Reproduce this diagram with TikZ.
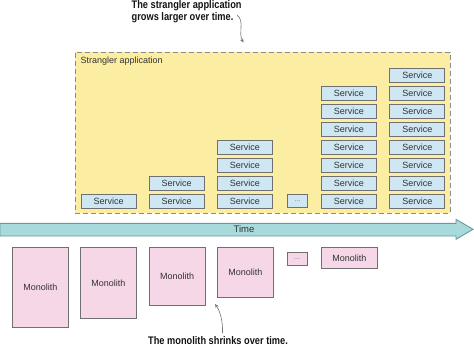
\documentclass[tikz,border=0pt]{standalone}
\usepackage{fontspec}
\setmainfont{Liberation Sans}
\usetikzlibrary{arrows.meta}
\definecolor{yel}{HTML}{FBEEA2}
\definecolor{svcfill}{HTML}{CFE7F3}
\definecolor{pinkfill}{HTML}{F6D7E8}
\definecolor{timefill}{HTML}{A8D9DB}
\definecolor{timeedge}{HTML}{6A9A9E}
\definecolor{edgegray}{HTML}{707070}
\definecolor{txt}{HTML}{333333}
\begin{document}
\begin{tikzpicture}[x=1bp,y=-1bp,
  lbl/.style={font=\fontsize{9bp}{10bp}\selectfont, text=txt},
  svc/.style={lbl, draw=edgegray, line width=0.9bp, fill=svcfill, minimum width=55bp, minimum height=14bp, inner sep=0pt, anchor=north west},
  mono/.style={lbl, draw=edgegray, line width=0.9bp, fill=pinkfill, minimum width=56bp, inner sep=0pt, anchor=north west},
  dotsbox/.style={font=\fontsize{7bp}{8bp}\selectfont, text=black!55, draw=edgegray, line width=0.9bp, inner sep=0pt, anchor=north west},
  note/.style={font=\fontsize{11bp}{12bp}\selectfont\bfseries, text=black!92, inner sep=0pt, align=left},
  callout/.style={draw=black!55, line width=0.6bp, -{Stealth[length=4bp,width=3.5bp]}}
]
\useasboundingbox (0,0) rectangle (474,346);

% strangler application container
\node[draw=black!45, dash pattern=on 5bp off 3bp, line width=0.7bp, fill=yel, minimum width=375bp, minimum height=161bp, anchor=north west, inner sep=0pt] (app) at (75,52) {};
\node[lbl, anchor=west, inner sep=0pt] (applbl) at (80.5,61) {Strangler application};

% services
\foreach \col/\x/\n in {1/80.7/1, 2/148.7/2, 3/217/4, 5/321/7, 6/389.3/8} {
  \foreach \r in {1,...,\n} {
    \node[svc] (s\col-\r) at (\x,{194.3-18*(\r-1)}) {Service};
  }
}
\node[dotsbox, fill=svcfill, minimum width=19.5bp, minimum height=12.5bp] (sdots) at (287.3,194.3) {...};

% time arrow
\draw[draw=timeedge, fill=timefill, line width=0.9bp]
  (0,223.3) -- (456,223.3) -- (456,219.3) -- (473,229.3) -- (456,239.3) -- (456,236) -- (0,236) -- cycle;
\node[lbl, font=\fontsize{9.5bp}{10bp}\selectfont, inner sep=0pt] (time) at (244,229.5) {Time};

% monoliths
\node[mono, minimum height=79.7bp] (m1) at (12,247) {Monolith};
\node[mono, minimum height=71.3bp] (m2) at (80,247) {Monolith};
\node[mono, minimum height=58bp] (m3) at (148.7,247) {Monolith};
\node[mono, minimum height=49.7bp] (m4) at (217,247) {Monolith};
\node[dotsbox, fill=pinkfill, minimum width=20bp, minimum height=13.3bp] (mdots) at (286.7,251.7) {...};
\node[mono, minimum height=21bp] (m5) at (321,247) {Monolith};

% annotations
\node[note, anchor=north west] (topnote) at (131.5,0.5) {\scalebox{0.84}[1]{The strangler application}\\\scalebox{0.84}[1]{grows larger over time.}};
\coordinate (ta) at (237,15);
\coordinate (tb) at (243.5,42.5);
\draw[callout] (ta) .. controls (245,21) and (238,33) .. (tb);

\node[note] (botnote) at (218,341) {\scalebox{0.84}[1]{The monolith shrinks over time.}};
\coordinate (ba) at (222.5,333);
\coordinate (bb) at (215,304);
\draw[callout] (ba) .. controls (223,321) and (220,311) .. (bb);
\end{tikzpicture}
\end{document}
